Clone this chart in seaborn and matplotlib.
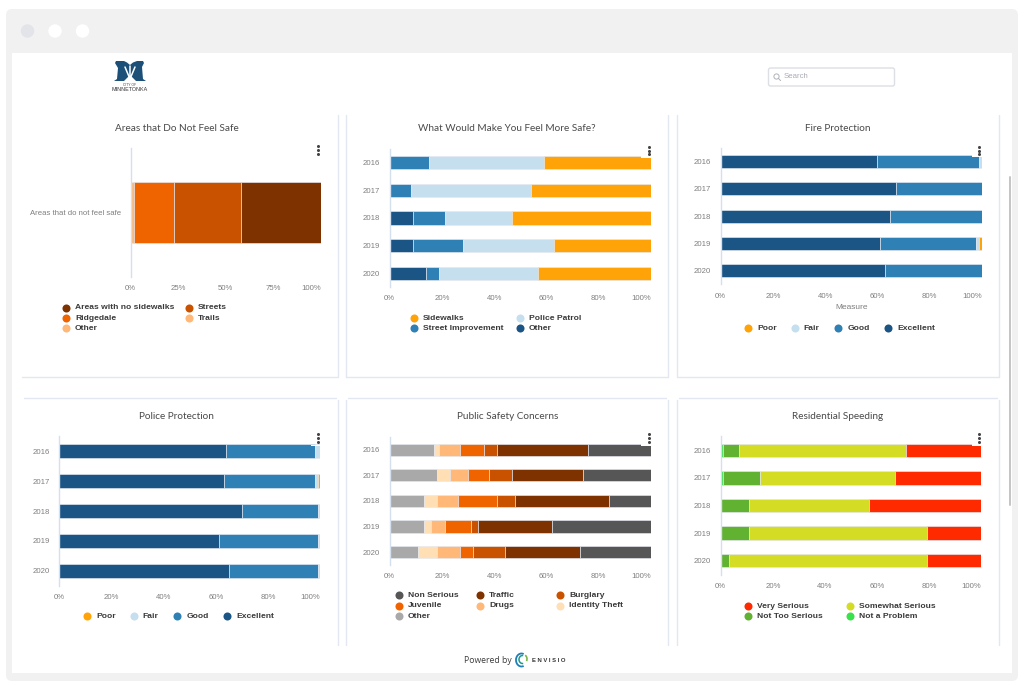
import numpy as np
import pandas as pd
import matplotlib
matplotlib.use("Agg")
import matplotlib.pyplot as plt
from matplotlib.patches import Circle, FancyBboxPatch, Rectangle, Arc, Polygon
import seaborn as sns

sns.set_theme(style="white")
plt.rcParams["font.family"] = ["Liberation Sans", "DejaVu Sans"]

W, H = 1024, 686
YEARS = ["2016", "2017", "2018", "2019", "2020"]

# Colours
NAVY, STEEL, PALE, AMBER = "#1b5585", "#2f80b4", "#c6dfee", "#ffa309"
BROWN, BURNT, ORANGE, PEACH = "#7d3200", "#c85200", "#f06400", "#ffb877"
CREAM, GREY, CHARCOAL = "#ffdfb3", "#a9a9a9", "#565656"
RED, YELLOW, GREEN, LIME = "#ff2a00", "#d5dc24", "#62b232", "#39e24b"

# Areas that Do Not Feel Safe
areas_cats = ["Areas that do not feel safe"]
areas_no_sidewalks = [42]
areas_streets = [35]
areas_ridgedale = [21]
areas_trails = [0]
areas_other = [2]

# What Would Make You Feel More Safe?
safe_sidewalks = [41, 46, 53, 37, 43]
safe_police = [44, 46, 26, 35, 38]
safe_street = [15, 8, 12, 19, 5]
safe_other = [0, 0, 9, 9, 14]

# Fire Protection
fire_poor = [0, 0, 0, 1, 0]
fire_fair = [1, 0, 0, 1, 0]
fire_good = [39, 33, 35, 37, 37]
fire_excellent = [60, 67, 65, 61, 63]

# Police Protection
police_poor = [0, 1, 0, 0, 0]
police_fair = [2, 1, 1, 1, 1]
police_good = [34, 35, 29, 38, 34]
police_excellent = [64, 63, 70, 61, 65]

# Public Safety Concerns
conc_non_serious = [24, 26, 16, 38, 27]
conc_traffic = [35, 27, 36, 28, 29]
conc_burglary = [5, 9, 7, 3, 12]
conc_juvenile = [9, 8, 15, 10, 5]
conc_drugs = [8, 7, 8, 5, 9]
conc_identity = [2, 5, 5, 3, 7]
conc_other = [17, 18, 13, 13, 11]

# Residential Speeding
speed_very = [29, 33, 43, 21, 21]
speed_somewhat = [64, 52, 46, 68, 76]
speed_not_too = [6, 14, 11, 11, 3]
speed_no_problem = [1, 1, 0, 0, 0]

PANELS = [
    dict(title="Areas that Do Not Feel Safe", cats=areas_cats,
         series=[("Areas with no sidewalks", areas_no_sidewalks, BROWN), ("Streets", areas_streets, BURNT),
                 ("Ridgedale", areas_ridgedale, ORANGE), ("Trails", areas_trails, PEACH), ("Other", areas_other, PEACH)],
         box=(130.5, 320.5, 148, 277), ticks=[0, 25, 50, 75, 100], title_xy=(176.7, 128.7),
         legend=dict(xs=[66, 189], ys=[307.7, 318, 328.4]), kebab=(318, 150), notch=None),
    dict(title="What Would Make You Feel More Safe?", cats=YEARS,
         series=[("Sidewalks", safe_sidewalks, AMBER), ("Police Patrol", safe_police, PALE),
                 ("Street Improvement", safe_street, STEEL), ("Other", safe_other, NAVY)],
         box=(389.7, 650.7, 148.8, 287), ticks=[0, 20, 40, 60, 80, 100], title_xy=(507.3, 128.7),
         legend=dict(xs=[414, 519.7], ys=[318, 328.3]), kebab=(648.7, 150.5), notch=(641, 155, 11, 2.6)),
    dict(title="Fire Protection", cats=YEARS,
         series=[("Poor", fire_poor, AMBER), ("Fair", fire_fair, PALE),
                 ("Good", fire_good, STEEL), ("Excellent", fire_excellent, NAVY)],
         box=(720.7, 981.7, 148.1, 284.3), ticks=[0, 20, 40, 60, 80, 100], title_xy=(837.7, 128.7),
         legend=dict(xs=[748, 794.7, 838.3, 888], ys=[328.3]), kebab=(979.3, 150.5), notch=(972, 155, 11, 2.4),
         xlabel="Measure"),
    dict(title="Police Protection", cats=YEARS,
         series=[("Poor", police_poor, AMBER), ("Fair", police_fair, PALE),
                 ("Good", police_good, STEEL), ("Excellent", police_excellent, NAVY)],
         box=(59.3, 320.3, 436.4, 585.6), ticks=[0, 20, 40, 60, 80, 100], title_xy=(176.7, 416.7),
         legend=dict(xs=[87, 133.7, 177.3, 227], ys=[616.3]), kebab=(318, 438), notch=(311, 444.6, 11, 1.6)),
    dict(title="Public Safety Concerns", cats=YEARS,
         series=[("Non Serious", conc_non_serious, CHARCOAL), ("Traffic", conc_traffic, BROWN),
                 ("Burglary", conc_burglary, BURNT), ("Juvenile", conc_juvenile, ORANGE), ("Drugs", conc_drugs, PEACH),
                 ("Identity Theft", conc_identity, CREAM), ("Other", conc_other, GREY)],
         box=(389.7, 650.7, 436.9, 564.9), ticks=[0, 20, 40, 60, 80, 100], title_xy=(507.3, 416.7),
         legend=dict(xs=[399, 480, 560], ys=[595.3, 605.7, 616]), kebab=(648.7, 438), notch=(641, 443.4, 11, 2.4)),
    dict(title="Residential Speeding", cats=YEARS,
         series=[("Very Serious", speed_very, RED), ("Somewhat Serious", speed_somewhat, YELLOW),
                 ("Not Too Serious", speed_not_too, GREEN), ("Not a Problem", speed_no_problem, LIME)],
         box=(720.7, 981.3, 436.5, 574.5), ticks=[0, 20, 40, 60, 80, 100], title_xy=(837.7, 416.7),
         legend=dict(xs=[748, 850], ys=[606, 616.3]), kebab=(979.3, 438), notch=(971.7, 444, 11, 2)),
]

fig = plt.figure(figsize=(W / 100, H / 100), dpi=100, facecolor="white")


def draw_panel(spec):
    x0, x1, y0, y1 = spec["box"]
    ax = fig.add_axes([x0 / W, 1 - y1 / H, (x1 - x0) / W, (y1 - y0) / H], zorder=3)
    ax.patch.set_alpha(0)
    rows = []
    for name, values, _ in spec["series"]:
        for cat, v in zip(spec["cats"], values):
            if v > 0:
                rows.append({"cat": cat, "series": name, "value": v})
    df = pd.DataFrame(rows)
    df["pos"] = df["cat"].map({c: i for i, c in enumerate(spec["cats"])})
    palette = {n: c for n, _, c in spec["series"]}
    sns.histplot(data=df, y="pos", weights="value", hue="series",
                 hue_order=[n for n, _, _ in spec["series"]], palette=palette,
                 multiple="stack", discrete=True, shrink=0.48, alpha=1,
                 edgecolor="#e4e8f0", linewidth=0.45, legend=False, ax=ax)
    ax.set_xlim(0, 100)
    ax.set_ylim(len(spec["cats"]) - 0.5, -0.5)
    ax.set_yticks(range(len(spec["cats"])), spec["cats"])
    ax.set_xticks(spec["ticks"], [f"{t}%" for t in spec["ticks"]])
    ax.xaxis.get_ticklabels()[-1].set_ha("right")
    ax.tick_params(axis="both", length=0, labelsize=5.6, labelcolor="#7f7f7f")
    ax.tick_params(axis="y", pad=7)
    ax.tick_params(axis="x", pad=6)
    ax.set_ylabel("")
    ax.set_xlabel(spec.get("xlabel", ""), fontsize=6.0, color="#7f7f7f", labelpad=3.5)
    sns.despine(ax=ax, top=True, right=True, bottom=True)
    ax.spines["left"].set_color("#d5e0ee")
    ax.spines["left"].set_linewidth(1)


# Page chrome and per-panel furniture share one pixel-addressed overlay
page = fig.add_axes([0, 0, 1, 1], zorder=1)
page.set_xlim(0, W)
page.set_ylim(H, 0)
page.axis("off")
top = fig.add_axes([0, 0, 1, 1], zorder=5)
top.set_xlim(0, W)
top.set_ylim(H, 0)
top.axis("off")
top.patch.set_alpha(0)

page.add_patch(FancyBboxPatch((6, 9), 1012, 672, boxstyle="round,pad=0,rounding_size=6", fc="#f1f1f2", ec="none"))
page.add_patch(Rectangle((12, 53), 1000, 620, fc="white", ec="none"))
page.add_patch(Circle((27.5, 31), 6.7, fc="#e2e4ea", ec="none"))
page.add_patch(Circle((55, 31), 6.7, fc="white", ec="none"))
page.add_patch(Circle((82.5, 31), 6.7, fc="white", ec="none"))

# Panel outlines
BORDER = "#e3e7f2"
for xa, xb in [(22, 338), (346, 668), (677, 999)]:
    page.plot([xa, xb], [377, 377], color=BORDER, lw=1)
    page.plot([xa + 2, xb - 2], [398, 398], color=BORDER, lw=1)
    page.plot([xb, xb], [115, 377], color=BORDER, lw=1)
    page.plot([xb, xb], [400, 645], color=BORDER, lw=1)
    if xa > 22:
        page.plot([xa, xa], [115, 377], color=BORDER, lw=1)
        page.plot([xa, xa], [400, 645], color=BORDER, lw=1)

# Scrollbar
page.plot([1010, 1010], [177, 505], color="#c4c4c4", lw=1.4, solid_capstyle="round")

# City emblem
page.add_patch(Polygon([(114, 81), (117, 79), (118, 68), (115, 63), (116, 61), (124, 61), (127, 62.5), (130, 65),
                        (133, 62.5), (137, 61), (143, 61), (144, 63), (142, 67), (143, 79), (146, 81)],
                       closed=True, fc="#1c5079", ec="none"))
for tip_x, tip_y in [(125, 67), (130, 66), (135, 67)]:
    page.plot([130, tip_x], [79, tip_y], color="white", lw=1.1, solid_capstyle="round")
page.add_patch(Polygon([(124, 81), (130, 75), (136, 81)], closed=True, fc="white", ec="none"))
page.text(130, 85.5, "CITY OF", fontsize=2.4, color="#444444", ha="center", va="center")
page.text(130, 89.5, "MINNETONKA", fontsize=3.9, color="#333333", ha="center", va="center")

# Search field
page.add_patch(FancyBboxPatch((768.5, 68), 126, 18, boxstyle="round,pad=0,rounding_size=2", fc="white", ec="#dcdfe3", lw=1))
page.add_patch(Circle((776.5, 76.5), 2.6, fc="none", ec="#aeb3b8", lw=0.7))
page.plot([778.4, 780.6], [78.4, 80.6], color="#aeb3b8", lw=0.7)
page.text(784, 77, "Search", fontsize=5.6, color="#a9adb2", ha="left", va="center")

# Footer
page.text(464, 660.2, "Powered by", fontsize=6.2, color="#3c3c3c", ha="left", va="center", family="Open Sans")
page.add_patch(Arc((521.5, 660), 11, 13, theta1=70, theta2=290, color="#1f7fb8", lw=1.3))
page.add_patch(Arc((522.5, 659.5), 7, 8, theta1=80, theta2=280, color="#1c9a8c", lw=1.1))
page.add_patch(Arc((523, 659), 8, 9, theta1=300, theta2=30, color="#7ab648", lw=1.2))
page.text(532, 660.3, "E N V I S I O", fontsize=4.2, fontweight="bold", color="#333333", ha="left", va="center")


def draw_furniture(spec):
    top.text(*spec["title_xy"], spec["title"], fontsize=7.2, color="#4a4a4a", ha="center", va="center",
             family="Lato")
    entries = spec["series"]
    xs, ys = spec["legend"]["xs"], spec["legend"]["ys"]
    for i, (name, _, colour) in enumerate(entries):
        row, col = divmod(i, len(xs))
        x, y = xs[col], ys[row]
        top.plot([x], [y], marker="o", ms=5.8, mfc=colour, mec="none", ls="none")
        top.text(x + 9, y + 0.2, name, fontsize=6.1, fontweight="bold", color="#3a3a3a", ha="left", va="center")
    kx, ky = spec["kebab"]
    if spec["notch"]:
        top.add_patch(Rectangle(spec["notch"][:2], *spec["notch"][2:], fc="white", ec="none"))
    for dy in (-3.6, 0, 3.6):
        top.plot([kx], [ky + dy], marker="o", ms=2.2, mfc="#444444", mec="none", ls="none")


for spec in PANELS:
    draw_panel(spec)
    draw_furniture(spec)

fig.savefig("out.png", dpi=100)
